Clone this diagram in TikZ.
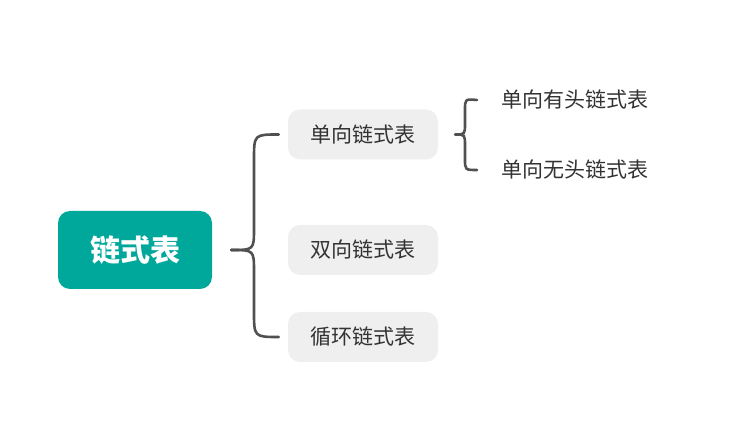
\documentclass[tikz,border=0pt]{standalone}
\usepackage{fontspec}
\newfontfamily\cjk{Noto Sans CJK SC}
\usetikzlibrary{positioning}

\definecolor{rootgreen}{HTML}{00A79B}
\definecolor{itemgray}{HTML}{EFEFEF}
\definecolor{bracegray}{HTML}{505050}
\definecolor{textgray}{HTML}{333333}

\begin{document}
\begin{tikzpicture}[x=1pt,y=-1pt]
		\useasboundingbox (0,0) rectangle (729,443);
		\tikzset{root/.style = {shape=rectangle,rounded corners=12pt,fill=rootgreen,text=white,minimum width=154pt,minimum height=78pt,font=\cjk\bfseries\fontsize{30}{32}\selectfont}}
		\tikzset{item/.style = {shape=rectangle,rounded corners=12pt,fill=itemgray,text=textgray,minimum width=150pt,minimum height=50pt,font=\cjk\fontsize{21}{23}\selectfont}}
		\tikzset{leaf/.style = {anchor=west,inner sep=0pt,text=textgray,font=\cjk\fontsize{21}{23}\selectfont}}
		\tikzset{brace/.style = {draw=bracegray,line width=2.6pt,line cap=round}}
		
		\node[root] (list) at (135,250) {链式表};
		
		\node[item] (single) at (363,134.5) {单向链式表};
		\node[item] (double) at (363,250) {双向链式表};
		\node[item] (loop) at (363,337) {循环链式表};
		
		\node[leaf] (head) at (501,100) {单向有头链式表};
		\node[leaf] (nohead) at (501,170) {单向无头链式表};
		
		% big brace
		\coordinate (tip) at ([xshift=19pt]list.east);
		\coordinate (top) at ([xshift=-9pt]single.west);
		\coordinate (bot) at ([xshift=-9pt]loop.west);
		\draw[brace] (top) .. controls (254,134.5) .. (254,160) -- (254,228) .. controls (254,250) .. (tip);
		\draw[brace] (bot) .. controls (254,337) .. (254,311) -- (254,272) .. controls (254,250) .. (tip);
		
		% small brace
		\coordinate (stip) at ([xshift=17pt]single.east);
		\coordinate (stop) at ([xshift=-24pt]head.west);
		\coordinate (sbot) at ([xshift=-24pt]nohead.west);
		\draw[brace] (stop) .. controls (465,99) .. (465,110) -- (465,123) .. controls (465,134.5) .. (stip);
		\draw[brace] (sbot) .. controls (465,170) .. (465,159) -- (465,146) .. controls (465,134.5) .. (stip);
\end{tikzpicture}
\end{document}
